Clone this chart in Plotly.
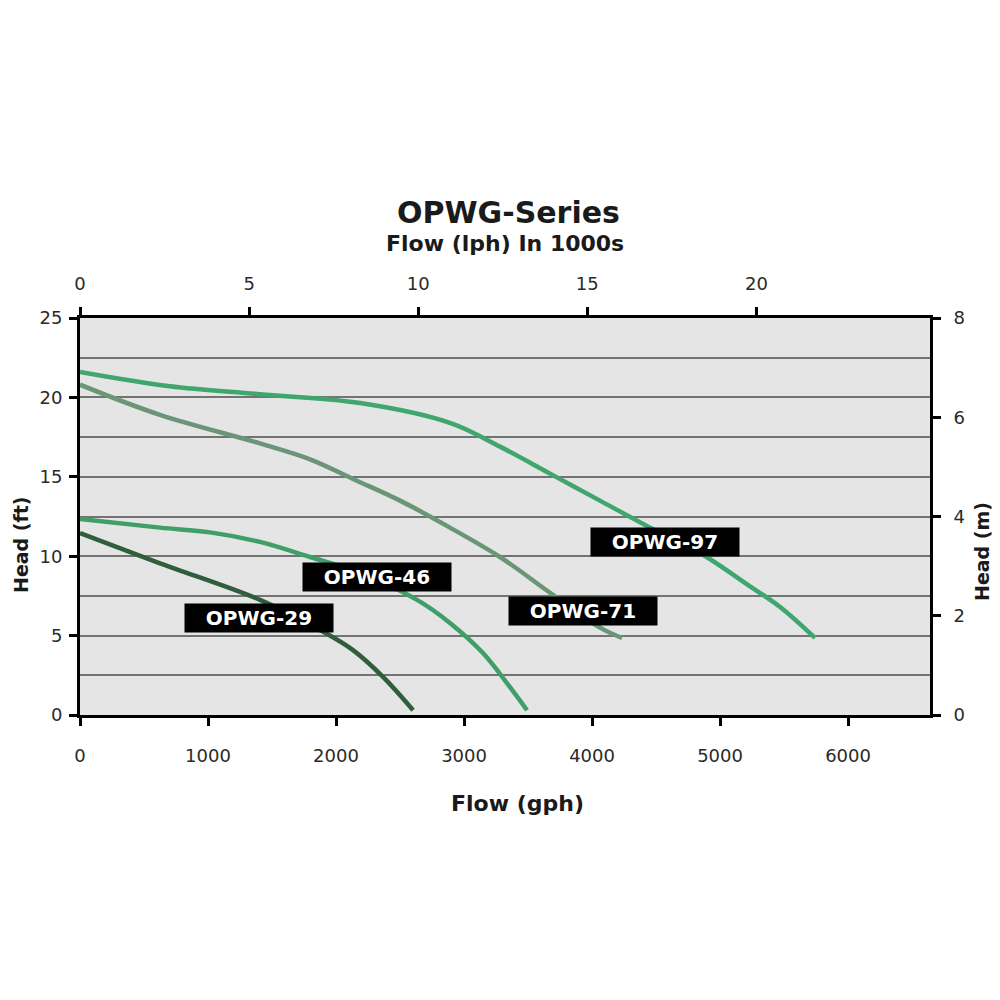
import plotly.graph_objects as go

# Flow (gph) / Head (ft)
models = ["OPWG-29", "OPWG-46", "OPWG-71", "OPWG-97"]
colors = ["#2f5e3d", "#3f9f69", "#6a9577", "#3fa66d"]

flow_29 = [0, 625, 1406, 1875, 2130, 2367, 2602]
head_29 = [11.45, 9.55, 7.25, 5.35, 4.1, 2.4, 0.3]

flow_46 = [0, 625, 1016, 1406, 1797, 2188, 2633, 2890, 3148, 3359, 3492]
head_46 = [12.35, 11.8, 11.5, 10.9, 9.95, 8.95, 7.25, 5.8, 3.9, 1.75, 0.3]

flow_71 = [0, 625, 1406, 1797, 2150, 2500, 2890, 3281, 3672, 4062, 4234]
head_71 = [20.8, 18.9, 17.1, 16.1, 14.8, 13.5, 11.8, 9.95, 7.7, 5.5, 4.85]

flow_97 = [0, 700, 1406, 2188, 2890, 3281, 3672, 4062, 4453, 4844, 5234, 5469, 5742]
head_97 = [21.6, 20.7, 20.2, 19.65, 18.4, 16.9, 15.2, 13.5, 11.8, 10.2, 8.1, 6.8, 4.85]

# label positions (gph, ft)
label_x = [1398, 2320, 3930, 4570]
label_y = [6.1, 8.7, 6.52, 10.9]

gph_ticks = [0, 1000, 2000, 3000, 4000, 5000, 6000]
lph_ticks = [0, 5, 10, 15, 20]
ft_ticks = [0, 5, 10, 15, 20, 25]
m_ticks = [0, 2, 4, 6, 8]

X_MAX = 6640
LPH_PER_GPH = 3.785 / 1000

FONT = "DejaVu Sans"
TXT = "#1a1a1a"

curves = [(flow_29, head_29), (flow_46, head_46), (flow_71, head_71), (flow_97, head_97)]

fig = go.Figure()

for (fx, hy), col, name in zip(curves, colors, models):
    fig.add_trace(go.Scatter(
        x=fx, y=hy, mode="lines", name=name,
        line=dict(color=col, width=4.5, shape="spline", smoothing=1.0),
        showlegend=False,
    ))

# dummy trace so the secondary axes get drawn
fig.add_trace(go.Scatter(x=[0], y=[0], xaxis="x2", yaxis="y2",
                         mode="markers", marker=dict(opacity=0),
                         showlegend=False, hoverinfo="skip"))

for name, lx, ly in zip(models, label_x, label_y):
    fig.add_annotation(
        x=lx, y=ly, text="<b>" + name + "</b>", showarrow=False,
        font=dict(family=FONT, size=20, color="white"),
        bgcolor="black", borderpad=2, width=144,
        xanchor="center", yanchor="middle",
    )

tick_style = dict(
    ticks="outside", ticklen=8, tickwidth=2.5, tickcolor="black",
    showline=True, linecolor="black", linewidth=3,
    tickfont=dict(family=FONT, size=18, color="#2a2a2a"),
    zeroline=False, fixedrange=True,
)

# page body has an 8px margin, so margins are shifted by 8
fig.update_layout(
    width=1000, height=1000,
    paper_bgcolor="white", plot_bgcolor="#e5e5e5",
    margin=dict(l=72, r=78, t=310, b=293),
    xaxis=dict(range=[0, X_MAX], tickvals=gph_ticks, showgrid=False,
               ticklabelstandoff=14, **tick_style),
    xaxis2=dict(range=[0, X_MAX * LPH_PER_GPH], tickvals=lph_ticks,
                overlaying="x", side="top", showgrid=False,
                ticklabelstandoff=10, **tick_style),
    yaxis=dict(range=[0, 25], tickvals=ft_ticks, showgrid=True,
               gridcolor="#737373", gridwidth=2,
               minor=dict(dtick=2.5, showgrid=True, gridcolor="#737373", gridwidth=2),
               ticklabelstandoff=3, **tick_style),
    yaxis2=dict(range=[0, 8], tickvals=m_ticks, overlaying="y", side="right",
                showgrid=False, ticklabelstandoff=9, **tick_style),
)


# titles placed by page pixel position
def py(pix):
    return (715 - pix) / 397


def px(pix):
    return (pix - 80) / 850


def title(text, x, y, size, angle=0):
    fig.add_annotation(x=px(x), y=py(y), xref="paper", yref="paper",
                       text="<b>" + text + "</b>", showarrow=False, textangle=angle,
                       xanchor="center", yanchor="middle",
                       font=dict(family=FONT, size=size, color=TXT))


title("OPWG-Series", 508, 212, 30)
title("Flow (lph) In 1000s", 505, 243, 22)
title("Flow (gph)", 517, 803, 22)
title("Head (ft)", 21, 545, 19, -90)
title("Head (m)", 982, 552, 19, -90)

fig.write_html("out.html")
